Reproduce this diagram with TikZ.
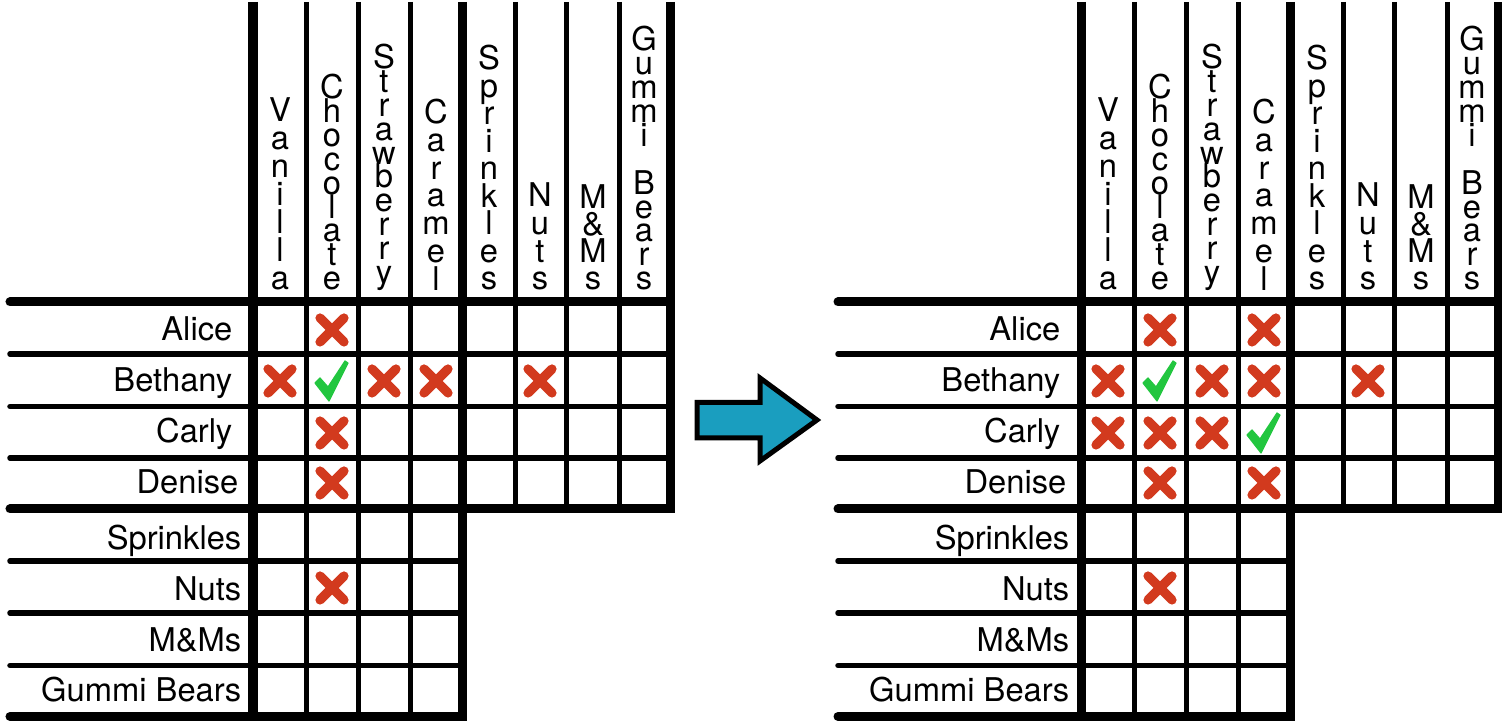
\documentclass[tikz,border=0pt]{standalone}
\usepackage{fontspec}
\setmainfont{TeX Gyre Heros}
\definecolor{crossred}{HTML}{D23A1E}
\definecolor{tickgreen}{HTML}{22C63F}
\definecolor{arrowblue}{HTML}{1A9EBF}
\tikzstyle{thickline} = [line width=0.09cm,line cap=round]
\tikzstyle{thinline} = [line width=0.055cm,line cap=round]
\tikzstyle{thickcol} = [line width=0.09cm]
\tikzstyle{thincol} = [line width=0.05cm]
\tikzstyle{rowlabel} = [anchor=base east,inner sep=0,font=\fontsize{9.3}{11}\selectfont]
\tikzstyle{collabel} = [anchor=south,inner sep=0,align=center]
\tikzset{
crossmark/.pic={
\draw[crossred,line width=0.092cm,line cap=round] (-12,-12) -- (12,12);
\draw[crossred,line width=0.092cm,line cap=round] (-12,12) -- (12,-12);
},
tickmark/.pic={
\filldraw[tickgreen,line width=0.012cm,line join=round] (-17,2) -- (-12,-3) -- (-4,6) -- (13,-20) -- (16,-18) -- (-3,20) -- cycle;
}
}

\begin{document}
\begin{tikzpicture}[x=0.01cm,y=-0.01cm]
\useasboundingbox (0,0) rectangle (1502,722);

\foreach \px/\side in {0/l,828/r}{
\begin{scope}[shift={(\px,0)}]
% rows
\foreach \y in {302,509,716.5} \draw[thickline] (10,\y) -- (462,\y);
\foreach \y in {354,406.5,458,561,613,665.5} \draw[thinline] (10,\y) -- (462,\y);
\foreach \y in {302,509} \draw[thickcol] (462,\y) -- (670,\y);
\foreach \y in {354,406.5,458} \draw[thinline] (462,\y) -- (670,\y);
% columns
\foreach \x in {306,358,410} \draw[thincol] (\x,2) -- (\x,716);
\foreach \x in {515,566,619} \draw[thincol] (\x,2) -- (\x,509);
\foreach \x in {253,462} \draw[thickcol] (\x,2) -- (\x,721);
\draw[thickcol] (670,2) -- (670,513.5);
% row labels
\foreach \rname/\rx/\ry/\rtext in {alice/233/341/Alice,bethany/233/392/Bethany,carly/233/443/Carly,denise/239/494/Denise,sprinkles/242/550/Sprinkles,nuts/242/601/Nuts,mms/242/652/M\&Ms,gummi/242/702/Gummi Bears}
\node (\rname\side) [rowlabel] at (\rx,\ry) {\rtext};
% column labels
\foreach \cname/\cx/\pitch/\ctext in {
cvanilla/280/7.97/{V\\a\\n\\i\\l\\l\\a},
cchocolate/332/6.8/{C\\h\\o\\c\\o\\l\\a\\t\\e},
cstrawberry/384/6.77/{S\\t\\r\\a\\w\\b\\e\\r\\r\\y},
ccaramel/436/7.9/{C\\a\\r\\a\\m\\e\\l},
csprinkles/489/7.83/{S\\p\\r\\i\\n\\k\\l\\e\\s},
cnuts/540/7.9/{N\\u\\t\\s},
cmms/593/7.72/{M\\\&\\M\\s},
cgummi/644/6.8/{G\\u\\m\\m\\i\\ \\B\\e\\a\\r\\s}}
\node (\cname\side) [collabel,font={\lineskiplimit=-100pt\fontsize{9.3}{\pitch}\selectfont}] at (\cx,291) {\ctext};
% marks found in both grids
\foreach \x/\y in {332/330,280/381,384/381,436/381,540/381,332/433,332/483,332/588}
\pic at (\x,\y) {crossmark};
\pic at (332,381) {tickmark};
\end{scope}
}

% marks added in the right grid
\begin{scope}[shift={(828,0)}]
\foreach \x/\y in {436/330,280/433,384/433,436/483}
\pic at (\x,\y) {crossmark};
\pic at (436,433) {tickmark};
\end{scope}

% arrow between the grids
\draw[line width=0.05cm,fill=arrowblue,miter limit=10] (697,402.5) -- (760,402.5) -- (760,378) -- (817,420) -- (760,461) -- (760,438) -- (697,438) -- cycle;

\end{tikzpicture}
\end{document}
